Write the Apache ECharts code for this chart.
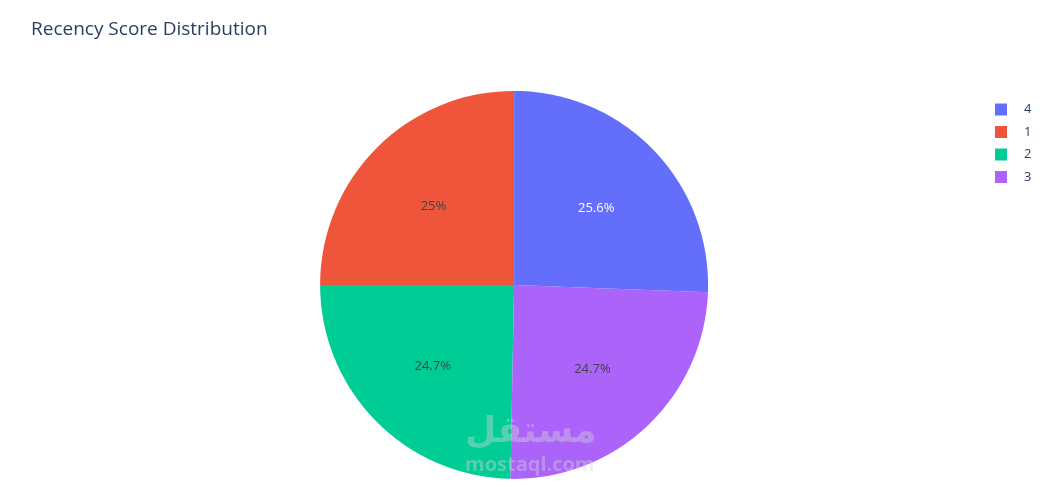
<!DOCTYPE html>
<html>
<head>
<meta charset="utf-8">
<script src="https://cdn.jsdelivr.net/npm/echarts@6/dist/echarts.min.js"></script>
<style>
html,body{margin:0;padding:0;background:#fff;}
#main{width:1060px;height:487px;}
</style>
</head>
<body>
<div id="main"></div>
<script>
// Data (counter-clockwise from 12 o'clock)
const categories = ['1', '2', '3', '4'];
const values = [25.0, 24.7, 24.7, 25.6];
const legendOrder = ['4', '1', '2', '3'];
const colors = {'1': '#EF553B', '2': '#00cc96', '3': '#ab63fa', '4': '#636efa'};
const labelColors = {'1': '#444', '2': '#444', '3': '#444', '4': '#ffffff'};

const chart = echarts.init(document.getElementById('main'));
const CX = 0.485, CY = 0.585, R = 194, LABEL_R = 114;

chart.setOption({
  backgroundColor: '#fff',
  animation: false,
  title: {
    text: 'Recency Score Distribution',
    left: 26, top: 15,
    textStyle: {fontFamily: 'Open Sans', fontSize: 19, fontWeight: 'normal', color: '#2a3f5f'}
  },
  legend: {
    data: legendOrder,
    orient: 'vertical',
    left: 990, top: 98,
    icon: 'rect',
    itemWidth: 12, itemHeight: 12, itemGap: 9.5,
    textStyle: {fontFamily: 'Open Sans', fontSize: 13, color: '#2a3f5f', padding: [0, 0, 0, 12]}
  },
  series: [{
    type: 'pie',
    center: [CX * 100 + '%', CY * 100 + '%'],
    radius: [0, R],
    startAngle: 90,
    clockwise: false,
    avoidLabelOverlap: false,
    silent: true,
    itemStyle: {borderWidth: 0},
    label: {
      show: true,
      position: 'inside',
      fontFamily: 'Open Sans',
      fontSize: 13,
      formatter: p => (+p.value.toFixed(1)) + '%'
    },
    labelLine: {show: false},
    labelLayout: function (p) {
      const cx = chart.getWidth() * CX, cy = chart.getHeight() * CY;
      const lx = p.labelRect.x + p.labelRect.width / 2;
      const ly = p.labelRect.y + p.labelRect.height / 2;
      const d = Math.hypot(lx - cx, ly - cy) || 1;
      return {
        x: cx + (lx - cx) * LABEL_R / d,
        y: cy + (ly - cy) * LABEL_R / d + 2,
        align: 'center', verticalAlign: 'middle'
      };
    },
    data: categories.map((c, i) => ({
      name: c, value: values[i],
      itemStyle: {color: colors[c]},
      label: {color: labelColors[c]}
    }))
  }],
  graphic: [
    {type: 'text', left: 465, top: 414, silent: true, z: 100,
     style: {text: 'مستقل', font: 'bold 36px "Noto Sans", "DejaVu Sans", sans-serif', fill: 'rgba(215,215,215,0.4)'}},
    {type: 'text', left: 465, top: 455, silent: true, z: 100,
     style: {text: 'mostaql.com', font: 'bold 20px "Open Sans", sans-serif', fill: 'rgba(215,215,215,0.4)'}}
  ]
});
</script>
</body>
</html>
